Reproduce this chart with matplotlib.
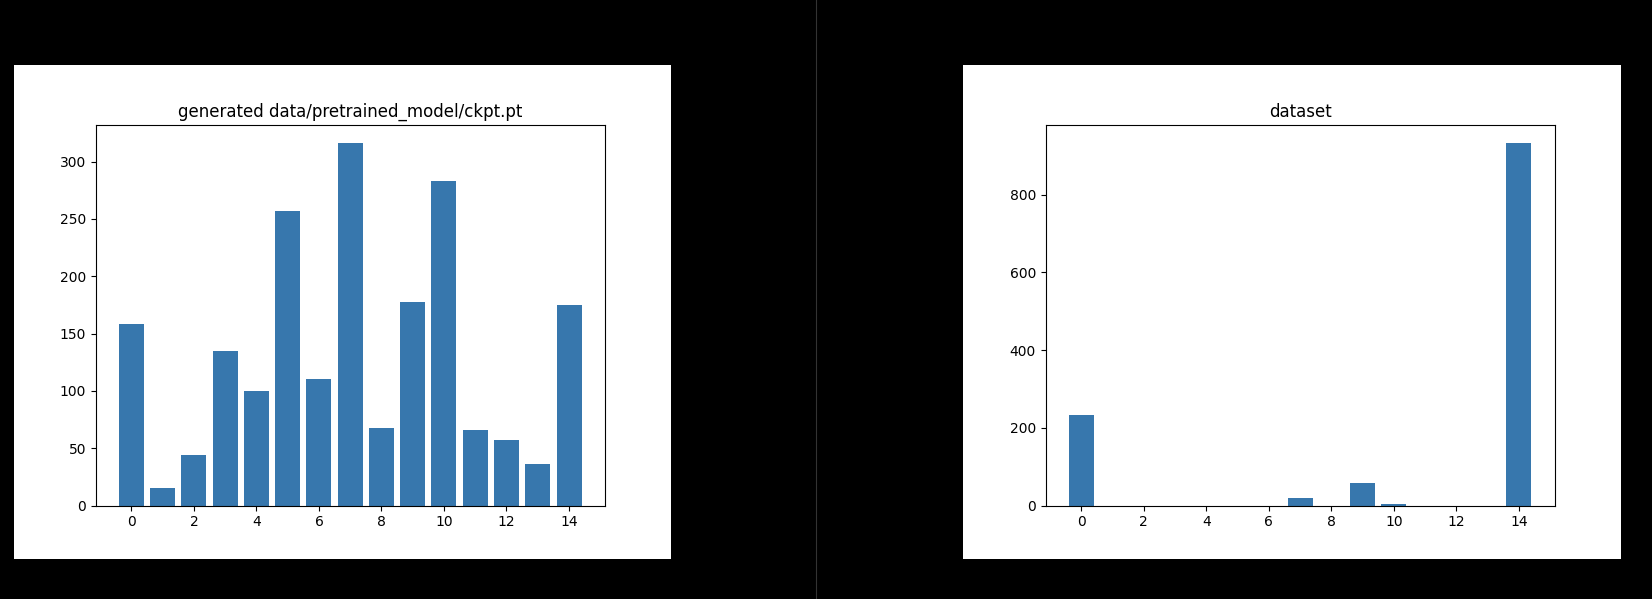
import numpy as np
import matplotlib.pyplot as plt
from matplotlib.patches import Rectangle
from matplotlib.lines import Line2D

# bar heights per class
classes = list(range(15))
generated_counts = [158, 15, 44, 135, 100, 257, 110, 316, 68, 178, 283, 66, 57, 36, 175]
dataset_counts = [232, 0, 0, 0, 0, 0, 0, 20, 0, 57, 3, 0, 0, 0, 932]
titles = ["generated data/pretrained_model/ckpt.pt", "dataset"]

bar_color = "#3777ad"

fig = plt.figure(figsize=(16.52, 5.99), dpi=100, facecolor="black")

# white figure panels on black background
for x0 in (0.0083, 0.583):
    fig.patches.append(Rectangle((x0, 0.067), 0.398, 0.824, transform=fig.transFigure,
                                 facecolor="white", edgecolor="none", zorder=-5))
fig.lines.append(Line2D([0.494, 0.494], [0, 1], transform=fig.transFigure,
                        color="#333333", lw=0.8, zorder=-5))

for left, counts, title in zip((0.058, 0.633), (generated_counts, dataset_counts), titles):
    ax = fig.add_axes([left, 0.156, 0.308, 0.635])
    ax.set_zorder(5)
    ax.bar(classes, counts, color=bar_color)
    ax.set_title(title, fontsize=12)
    ax.set_xticks(range(0, 15, 2))
    ax.tick_params(labelsize=10)

fig.savefig("out.png", facecolor="black")
